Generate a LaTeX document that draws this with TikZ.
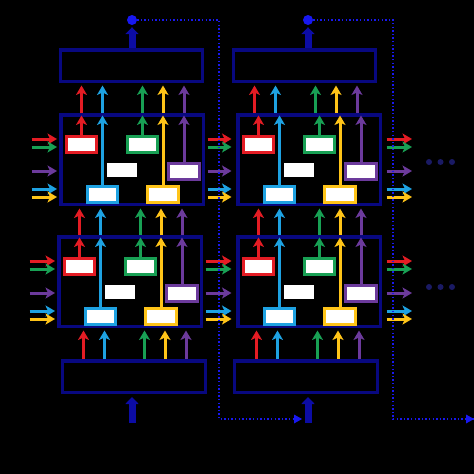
\documentclass[tikz,border=0pt]{standalone}
\usetikzlibrary{arrows.meta}
\definecolor{navy}{RGB}{8,8,128}
\definecolor{cred}{RGB}{228,28,36}
\definecolor{cgreen}{RGB}{24,160,84}
\definecolor{cpurple}{RGB}{108,58,156}
\definecolor{ccyan}{RGB}{30,162,226}
\definecolor{cyellow}{RGB}{255,196,24}
\definecolor{dotblue}{RGB}{24,24,240}
\definecolor{thickblue}{RGB}{12,12,165}
\definecolor{dotnavy}{RGB}{26,26,100}
\begin{document}
\begin{tikzpicture}[x=1pt,y=-1pt,
  blk/.style={draw=navy,line width=3.5pt,minimum width=142.5pt,minimum height=89.5pt,inner sep=0pt},
  rbox/.style={draw=navy,line width=3.5pt,minimum width=142pt,minimum height=31.5pt,inner sep=0pt},
  ibox/.style={fill=white,line width=3pt,minimum width=30pt,minimum height=16pt,inner sep=0pt},
  wbox/.style={fill=white,minimum width=30pt,minimum height=14pt,inner sep=0pt},
  va/.style={line width=3pt,-{Stealth[length=9.5pt,width=11pt,inset=2.5pt]}},
  thickarr/.style={draw=thickblue,line width=7pt,-{Triangle[length=7pt,width=13pt]}},
  dotline/.style={draw=dotblue,line width=1.4pt,dash pattern=on 1.4pt off 2.2pt},
  endmark/.style={circle,fill=dotblue,minimum size=10pt,inner sep=0pt},
  moredot/.style={circle,fill=dotnavy,minimum size=6pt,inner sep=0pt}
]
\fill[black] (0,0) rectangle (474,474);
\useasboundingbox (0,0) rectangle (474,474);

% outer rectangles
\node[rbox] (TL) at (131.5,65.5) {};
\node[rbox] (TR) at (304.5,65.5) {};
\node[rbox,minimum width=143pt] (BL) at (134,376.5) {};
\node[rbox,minimum width=143pt] (BR) at (306,376.5) {};

% blocks with inner boxes
\foreach \b/\L/\T in {UL/59/113, LL/57/235, UR/236/113, LR/236/235} {
  \node[blk] (\b) at (\L+73,\T+46.5) {};
  \node[ibox,draw=cred] (\b-r) at (\L+22.5,\T+31.5) {};
  \node[ibox,draw=cgreen] (\b-g) at (\L+83.5,\T+31.5) {};
  \node[wbox] (\b-w) at (\L+63,\T+57) {};
  \node[ibox,draw=cpurple,minimum width=31pt] (\b-p) at (\L+125,\T+58.5) {};
  \node[ibox,draw=ccyan] (\b-c) at (\L+43.5,\T+81) {};
  \node[ibox,draw=cyellow,minimum width=31pt] (\b-y) at (\L+104,\T+81) {};
  \foreach \k/\col in {r/cred,g/cgreen,p/cpurple,c/ccyan,y/cyellow}
    \draw[va,\col,shorten >=2.5pt] (\b-\k.north) -- (\b-\k.north |- \b.north);
}

% vertical arrows in the gaps
\foreach \g/\X/\lo/\up in {g1/59/UL/TL, g2/57/LL/UL, g3/61/BL/LL, g4/232/UR/TR, g5/236/LR/UR, g6/234/BR/LR} {
  \foreach \o/\col [count=\i] in {22.5/cred,43.5/ccyan,83.5/cgreen,104/cyellow,125/cpurple} {
    \coordinate (\g-\i) at (\X+\o,0);
    \draw[va,\col,shorten >=2.5pt] (\g-\i |- \lo.north) -- (\g-\i |- \up.south);
  }
}

% horizontal arrows
\foreach \T/\lb/\rb in {113/UL/UR, 235/LL/LR} {
  \foreach \dy/\col [count=\i] in {26/cred,34/cgreen,58/cpurple,76/ccyan,84/cyellow} {
    \coordinate (h\lb-\i) at (0,\T+\dy);
    \draw[va,\col,shorten >=2pt] ([xshift=-27.5pt]h\lb-\i -| \lb.west) -- (h\lb-\i -| \lb.west);
    \draw[va,\col,shorten <=2.5pt,shorten >=4.5pt] (h\lb-\i -| \lb.east) -- (h\lb-\i -| \rb.west);
    \draw[va,\col,shorten <=4.5pt] (h\lb-\i -| \rb.east) -- ([xshift=30pt]h\lb-\i -| \rb.east);
  }
}

% continuation dots
\foreach \yy [count=\j] in {162,287} {
  \foreach \xx [count=\i] in {429,440.5,452} {
    \node[moredot] (md\j-\i) at (\xx,\yy) {};
  }
}

% top outputs and feedback lines
\node[endmark] (oL) at (132,20) {};
\node[endmark] (oR) at (308,20) {};
\draw[thickarr,shorten >=2pt] (TL.north -| oL) -- (oL.south);
\draw[thickarr,shorten >=2pt] (TR.north -| oR) -- (oR.south);

\coordinate (inL) at (132,423);
\coordinate (inR) at (308,423);
\draw[thickarr,shorten >=3pt] (inL) -- (inL |- BL.south);
\draw[thickarr,shorten >=3pt] (inR) -- (inR |- BR.south);

\coordinate (cL1) at (219,20);
\coordinate (cL2) at (219,419);
\coordinate (eL) at (302,419);
\coordinate (cR1) at (393,20);
\coordinate (cR2) at (393,419);
\coordinate (eR) at (474,419);
\draw[dotline] (oL.east) -- (cL1) -- (cL2) -- (eL);
\draw[dotline] (oR.east) -- (cR1) -- (cR2) -- (eR);
\fill[dotblue] (eL) -- ++(-8,-4.5) -- ++(0,9) -- cycle;
\fill[dotblue] (eR) -- ++(-8,-4.5) -- ++(0,9) -- cycle;
\end{tikzpicture}
\end{document}
